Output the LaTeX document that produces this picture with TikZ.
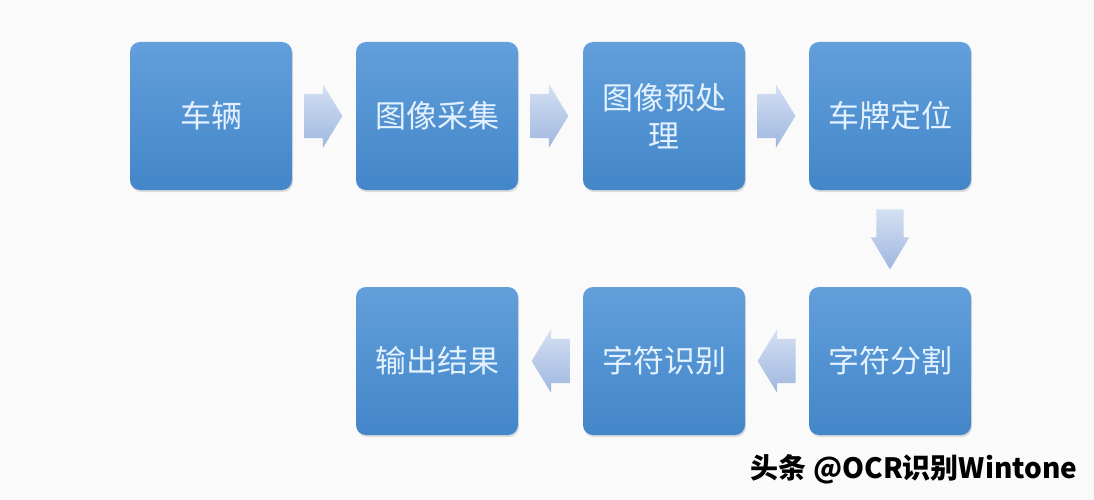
\documentclass[tikz,border=0pt]{standalone}
\usepackage{fontspec}
\setmainfont{Noto Sans CJK SC}
\usetikzlibrary{shapes.arrows,calc,shadows}
\definecolor{boxtop}{HTML}{629FDB}
\definecolor{boxbot}{HTML}{4386C9}
\definecolor{boxtext}{HTML}{E4F2FF}
\definecolor{arrtop}{HTML}{D4E0F3}
\definecolor{arrbot}{HTML}{9FB7DF}
\definecolor{bg}{HTML}{FAFAFA}
\begin{document}
\begin{tikzpicture}[x=1pt,y=-1pt,
    stepbox/.style={rectangle, rounded corners=10pt, minimum width=162pt, minimum height=148pt,
      top color=boxtop, bottom color=boxbot, draw=none, text=boxtext, font=\fontsize{31}{38}\selectfont,
      align=center, drop shadow={shadow xshift=1pt, shadow yshift=-2pt, opacity=0.25}},
    flow/.style={single arrow, anchor=tail, minimum height=38pt, single arrow head extend=9.5pt,
      single arrow tip angle=117, inner xsep=0pt, inner ysep=22pt, top color=arrtop, bottom color=arrbot, draw=none},
    flowv/.style={flow, minimum height=60pt, single arrow head extend=5.5pt, single arrow tip angle=62,
      inner xsep=13.5pt, inner ysep=0pt, shape border rotate=270}]
    \fill[bg] (0,0) rectangle (1094,500);
    \useasboundingbox (0,0) rectangle (1094,500);
    \node[stepbox] at (211,116) (B1) {车辆};
    \node[stepbox] at (437,116) (B2) {图像采集};
    \node[stepbox] at (664,116) (B3) {图像预处\\理};
    \node[stepbox] at (890,116) (B4) {车牌定位};
    \node[stepbox] at (890,361) (B5) {字符分割};
    \node[stepbox] at (664,361) (B6) {字符识别};
    \node[stepbox] at (437,361) (B7) {输出结果};
    \node[flow] at ($(B1.east)+(12,0)$) (A1) {};
    \node[flow] at ($(B2.east)+(12,0)$) (A2) {};
    \node[flow] at ($(B3.east)+(12,0)$) (A3) {};
    \node[flowv] at ($(B4.south)+(0,19)$) (A4) {};
    \node[flow, shape border rotate=180] at ($(B5.west)+(-13,0)$) (A5) {};
    \node[flow, shape border rotate=180] at ($(B6.west)+(-13,0)$) (A6) {};
    \node[font=\bfseries\fontsize{28}{32}\selectfont, text=black] at (914,469) (W) {头条 @OCR识别Wintone};
\end{tikzpicture}
\end{document}
